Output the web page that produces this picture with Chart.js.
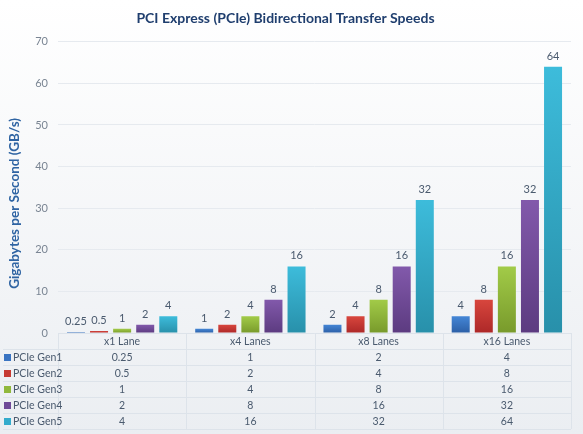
<!DOCTYPE html>
<html>
<head>
<meta charset="utf-8">
<script src="https://cdn.jsdelivr.net/npm/chart.js@4/dist/chart.umd.min.js"></script>
<style>
  body { margin: 0; background: #fff; }
  canvas { display: block; }
</style>
</head>
<body>
<canvas id="pcieChart" width="583" height="434"></canvas>
<script>
// data
const lanes = ['x1 Lane', 'x4 Lanes', 'x8 Lanes', 'x16 Lanes'];
const genNames = ['PCIe Gen1', 'PCIe Gen2', 'PCIe Gen3', 'PCIe Gen4', 'PCIe Gen5'];
const gen1 = [0.25, 1, 2, 4];
const gen2 = [0.5, 2, 4, 8];
const gen3 = [1, 4, 8, 16];
const gen4 = [2, 8, 16, 32];
const gen5 = [4, 16, 32, 64];
const yMax = 70;
const yStep = 10;
const yTitle = 'Gigabytes per Second (GB/s)';

// top / bottom shade of each bar
const shades = [
  ['#4486d6', '#2c5fa6'],
  ['#d8463d', '#ad2828'],
  ['#a2cb48', '#789a2b'],
  ['#8259ab', '#5c3b80'],
  ['#3dbcdb', '#2890aa']
];
const legendColors = ['#3a74c2', '#c63a33', '#90b83c', '#6f4a98', '#33abcc'];

const textColor = '#4a5a6e';
const lineColor = '#dde3ea';
const font = 'Lato, "Open Sans", sans-serif';

function barFill(i) {
  return function (ctx) {
    const chart = ctx.chart;
    const y = chart.scales.y;
    if (!y || ctx.parsed === undefined) return shades[i][0];
    const top = y.getPixelForValue(ctx.parsed.y);
    const bottom = y.getPixelForValue(0);
    if (!isFinite(top) || bottom - top < 1) return shades[i][1];
    const g = chart.ctx.createLinearGradient(0, top, 0, bottom);
    g.addColorStop(0, shades[i][0]);
    g.addColorStop(1, shades[i][1]);
    return g;
  };
}

const series = [gen1, gen2, gen3, gen4, gen5];

const backdrop = {
  id: 'backdrop',
  beforeDraw(chart) {
    const c = chart.ctx;
    const g = c.createLinearGradient(0, 0, 0, chart.height);
    g.addColorStop(0, '#ffffff');
    g.addColorStop(1, '#ebeef2');
    c.save();
    c.fillStyle = g;
    c.fillRect(0, 0, chart.width, chart.height);
    c.restore();
  }
};

// axis title, sits a little below the middle like the original
const axisTitle = {
  id: 'axisTitle',
  afterDraw(chart) {
    const c = chart.ctx;
    const area = chart.chartArea;
    c.save();
    c.translate(15, (area.top + area.bottom) / 2 + 16);
    c.rotate(-Math.PI / 2);
    c.font = 'bold 13.5px ' + font;
    c.fillStyle = '#2f64a3';
    c.textAlign = 'center';
    c.textBaseline = 'middle';
    c.fillText(yTitle, 0, 0);
    c.restore();
  }
};

// value labels over the bars
const barLabels = {
  id: 'barLabels',
  afterDatasetsDraw(chart) {
    const c = chart.ctx;
    c.save();
    c.font = '11px ' + font;
    c.fillStyle = textColor;
    c.textAlign = 'center';
    c.textBaseline = 'bottom';
    chart.data.datasets.forEach((ds, i) => {
      chart.getDatasetMeta(i).data.forEach((bar, j) => {
        c.fillText(String(ds.data[j]), bar.x, bar.y - 5);
      });
    });
    c.restore();
  }
};

// data table under the plot
const dataTable = {
  id: 'dataTable',
  afterDraw(chart) {
    const c = chart.ctx;
    const area = chart.chartArea;
    const x = chart.scales.x;
    const rowH = 16;
    const top = area.bottom;
    const half = (x.getPixelForValue(1) - x.getPixelForValue(0)) / 2;
    const rows = chart.data.datasets.length;
    const bottom = top + rowH * (rows + 1);
    c.save();
    c.strokeStyle = lineColor;
    c.lineWidth = 1;
    c.beginPath();
    c.moveTo(area.left, top + 0.5);
    c.lineTo(area.right, top + 0.5);
    for (let r = 1; r <= rows + 1; r++) {
      const y = Math.round(top + r * rowH) + 0.5;
      c.moveTo(3, y);
      c.lineTo(area.right, y);
    }
    const cols = [area.left];
    chart.data.labels.forEach((l, j) => cols.push(x.getPixelForValue(j) + half));
    cols.forEach(cx => {
      c.moveTo(Math.round(cx) + 0.5, top);
      c.lineTo(Math.round(cx) + 0.5, bottom);
    });
    c.stroke();

    c.font = '10.5px ' + font;
    c.fillStyle = textColor;
    c.textAlign = 'center';
    c.textBaseline = 'middle';
    chart.data.labels.forEach((l, j) => {
      c.fillText(l, x.getPixelForValue(j), top + rowH / 2 + 1);
    });
    chart.data.datasets.forEach((ds, i) => {
      const cy = top + rowH * (i + 1) + rowH / 2 + 1;
      ds.data.forEach((v, j) => {
        c.fillText(String(v), x.getPixelForValue(j), cy);
      });
      c.fillStyle = legendColors[i];
      c.fillRect(4, cy - 4, 7, 7);
      c.fillStyle = textColor;
      c.textAlign = 'left';
      c.fillText(ds.label, 13, cy);
      c.textAlign = 'center';
    });
    c.restore();
  }
};

const data = {
  labels: lanes,
  datasets: series.map((vals, i) => ({
    label: genNames[i],
    data: vals,
    backgroundColor: barFill(i),
    borderWidth: 0
  }))
};

const config = {
  type: 'bar',
  data: data,
  options: {
    responsive: false,
    animation: false,
    categoryPercentage: 0.9,
    barPercentage: 0.78,
    layout: {
      padding: { left: 0, right: 12, bottom: 101, top: 0 }
    },
    plugins: {
      legend: { display: false },
      tooltip: { enabled: false },
      title: {
        display: true,
        text: 'PCI Express (PCIe) Bidirectional Transfer Speeds',
        color: '#1f3e6e',
        font: { family: font, size: 14, weight: 'bold' },
        padding: { top: 10, bottom: 15 }
      }
    },
    scales: {
      x: {
        display: false
      },
      y: {
        min: 0,
        max: yMax,
        border: { display: false },
        grid: {
          color: '#e6eaef',
          drawTicks: false
        },
        ticks: {
          stepSize: yStep,
          padding: 10,
          color: '#7a8593',
          font: { family: font, size: 11 }
        },
        afterFit(scale) {
          scale.width = 58;
        }
      }
    }
  },
  plugins: [backdrop, barLabels, dataTable, axisTitle]
};

const pcieChart = new Chart(
  document.getElementById('pcieChart').getContext('2d'),
  config
);
</script>
</body>
</html>
